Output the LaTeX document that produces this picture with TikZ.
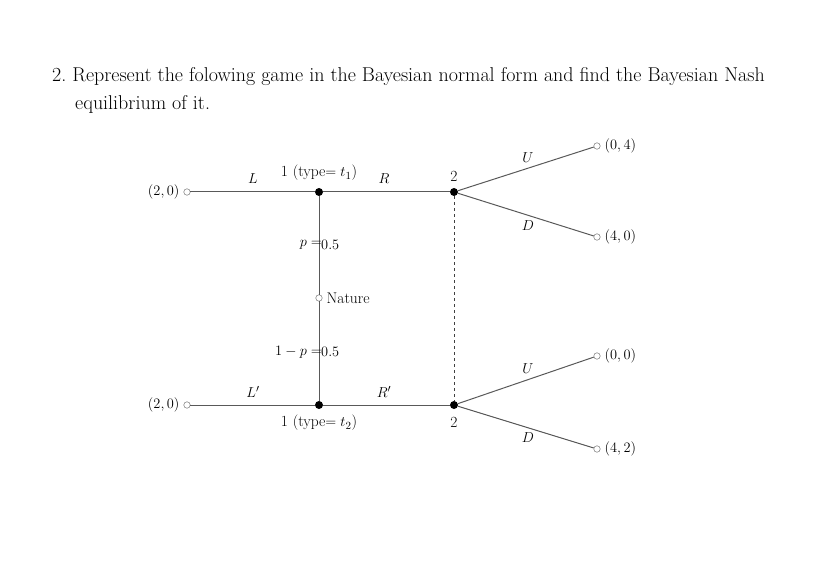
\documentclass[tikz,border=0pt]{standalone}
\usetikzlibrary{positioning}
\begin{document}
\begin{tikzpicture}[x=1pt,y=-1pt,
  edge/.style={draw=gray!70!black,line width=1pt},
  info/.style={draw=gray!50!black,line width=1pt,dashed},
  dec/.style={circle,fill=black,inner sep=0pt,minimum size=8pt},
  term/.style={circle,draw=gray!70!black,fill=white,inner sep=0pt,minimum size=6.5pt},
  lbl/.style={font=\fontsize{15.5}{18}\selectfont,inner sep=1pt}]
\useasboundingbox (0,0) rectangle (816,588);
\node[anchor=base west,font=\fontsize{20}{24}\selectfont,inner sep=0pt] (t1) at (52,82) {2.\ Represent the folowing game in the Bayesian normal form and find the Bayesian Nash};
\node[anchor=base west,font=\fontsize{20}{24}\selectfont,inner sep=0pt] (t2) at (75,110) {equilibrium of it.};
% nodes
\node[term] (a) at (187,192) {};
\node[term] (b) at (187,405) {};
\node[dec] (p1) at (319,192) {};
\node[dec] (p2) at (319,405) {};
\node[term] (n) at (319,298) {};
\node[dec] (q1) at (454,192) {};
\node[dec] (q2) at (454,405) {};
\node[term] (u1) at (597,146) {};
\node[term] (d1) at (597,237) {};
\node[term] (u2) at (597,356) {};
\node[term] (d2) at (597,449) {};
% edges
\draw[edge] (a) -- (p1) -- (q1);
\draw[edge] (b) -- (p2) -- (q2);
\draw[edge] (p1) -- (n) -- (p2);
\draw[info] (q1) -- (q2);
\draw[edge] (q1) -- (u1);
\draw[edge] (q1) -- (d1);
\draw[edge] (q2) -- (u2);
\draw[edge] (q2) -- (d2);
% labels
\node[lbl,left=3pt of a] {$(2,0)$};
\node[lbl,left=3pt of b] {$(2,0)$};
\node[lbl,right=3pt of u1] {$(0,4)$};
\node[lbl,right=3pt of d1] {$(4,0)$};
\node[lbl,right=3pt of u2] {$(0,0)$};
\node[lbl,right=3pt of d2] {$(4,2)$};
\node[lbl,right=3pt of n] {Nature};
\node[lbl] at (319,173) {1 (type$=t_1$)};
\node[lbl] at (319,423) {1 (type$=t_2$)};
\node[lbl] at (454,176) {2};
\node[lbl] at (454,422) {2};
\node[lbl] at (253,179) {$L$};
\node[lbl] at (253,392) {$L'$};
\node[lbl] at (384,179) {$R$};
\node[lbl] at (384,392) {$R'$};
\node[lbl] at (528,158) {$U$};
\node[lbl] at (528,226) {$D$};
\node[lbl] at (528,369) {$U$};
\node[lbl] at (528,438) {$D$};
\node[lbl,anchor=east] at (323,245) {$p=$};
\node[lbl,anchor=west] at (320,245) {$0.5$};
\node[lbl,anchor=east] at (323,352) {$1-p=$};
\node[lbl,anchor=west] at (320,352) {$0.5$};
\end{tikzpicture}
\end{document}
